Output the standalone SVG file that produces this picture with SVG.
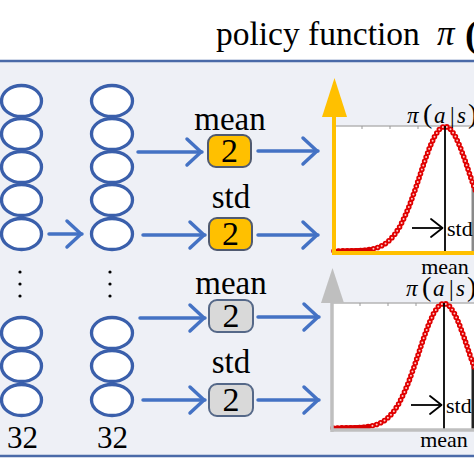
<svg xmlns="http://www.w3.org/2000/svg" xmlns:xlink="http://www.w3.org/1999/xlink" width="474" height="474" viewBox="0 0 474 474">
<style>
.serif{font-family:"Liberation Serif","Times New Roman",serif;fill:#000}
.neuron{fill:#ffffff;stroke:#3a5fab;stroke-width:3.3}
.conn{stroke:#4472c4;stroke-width:3.5;fill:none;stroke-linecap:round}
.box-y{fill:#ffc000;stroke:#505a70;stroke-width:2}
.box-g{fill:#d9d9d9;stroke:#556888;stroke-width:2}
.lbl{font-size:33px;text-anchor:middle}
.num{font-size:34px;text-anchor:middle}
.it{font-style:italic}
</style>
<defs>
<marker id="chev" markerUnits="userSpaceOnUse" viewBox="-20 -20 40 40" markerWidth="40" markerHeight="40" refX="0" refY="0" orient="auto" overflow="visible">
<path d="M-15,-13 L-1,0 L-15,13" fill="none" stroke="#4472c4" stroke-width="3.5" stroke-linecap="round" stroke-linejoin="round"/>
</marker>
<marker id="bchev" markerUnits="userSpaceOnUse" viewBox="-20 -20 40 40" markerWidth="40" markerHeight="40" refX="0" refY="0" orient="auto" overflow="visible">
<path d="M-12,-9 L-0.5,0 L-12,9" fill="none" stroke="#000" stroke-width="1.8" stroke-linecap="round" stroke-linejoin="round"/>
</marker>
<polyline id="gauss" points="334,251 355,250.8 365,250.2 375,248.5 380,246.7 385,244 390,239.9 395,234.1 400,226.3 405,216.2 410,204.1 415,190.2 420,175.2 425,160.2 430,146.6 435,135.6 440,128.5 445,126 450,128.5 455,135.6 460,146.6 465,160.2 470,175.2 472,181.2 476,192"/>
<g id="curve">
<use xlink:href="#gauss" href="#gauss" fill="none" stroke="#e00000" stroke-width="5.6" stroke-linecap="round" stroke-dasharray="0 4.4"/>
<use xlink:href="#gauss" href="#gauss" fill="none" stroke="#ffc8c8" stroke-width="2" stroke-linecap="round" stroke-dasharray="0 4.4"/>
<line x1="334" y1="251" x2="372" y2="249.5" stroke="#d80000" stroke-width="4"/>
</g>
</defs>

<g id="title">
<text class="serif" x="216" y="45" font-size="33.5">policy function</text>
<text class="serif it" x="437" y="45" font-size="35">π</text>
<text class="serif" x="465" y="47" font-size="38" font-weight="bold">(</text>
</g>

<g id="panel">
<rect x="0" y="62" width="474" height="393" fill="#eef0f6"/>
<line x1="0" y1="61" x2="474" y2="61" stroke="#4a6aa8" stroke-width="2.5"/>
<line x1="0" y1="456" x2="474" y2="456" stroke="#4a6aa8" stroke-width="2.5"/>
</g>

<g id="layer1">
<ellipse class="neuron" cx="21.5" cy="101" rx="20" ry="15.5"/>
<ellipse class="neuron" cx="21.5" cy="134" rx="20" ry="15.5"/>
<ellipse class="neuron" cx="21.5" cy="167" rx="20" ry="15.5"/>
<ellipse class="neuron" cx="21.5" cy="200" rx="20" ry="15.5"/>
<ellipse class="neuron" cx="21.5" cy="234" rx="20" ry="15.5"/>
<ellipse class="neuron" cx="21.5" cy="333" rx="20" ry="15.5"/>
<ellipse class="neuron" cx="21.5" cy="366" rx="20" ry="15.5"/>
<ellipse class="neuron" cx="21.5" cy="400" rx="20" ry="15.5"/>
<circle cx="20" cy="272" r="1.6"/><circle cx="20" cy="284" r="1.6"/><circle cx="20" cy="296" r="1.6"/>
<text class="serif" x="22.5" y="448" font-size="31" text-anchor="middle">32</text>
</g>

<g id="layer2">
<ellipse class="neuron" cx="112" cy="101" rx="20.5" ry="15.5"/>
<ellipse class="neuron" cx="112" cy="134" rx="20.5" ry="15.5"/>
<ellipse class="neuron" cx="112" cy="167" rx="20.5" ry="15.5"/>
<ellipse class="neuron" cx="112" cy="200" rx="20.5" ry="15.5"/>
<ellipse class="neuron" cx="112" cy="234" rx="20.5" ry="15.5"/>
<ellipse class="neuron" cx="112" cy="333" rx="20.5" ry="15.5"/>
<ellipse class="neuron" cx="112" cy="366" rx="20.5" ry="15.5"/>
<ellipse class="neuron" cx="112" cy="400" rx="20.5" ry="15.5"/>
<circle cx="110" cy="272" r="1.6"/><circle cx="110" cy="284" r="1.6"/><circle cx="110" cy="296" r="1.6"/>
<text class="serif" x="112.5" y="448" font-size="31" text-anchor="middle">32</text>
</g>

<g id="mean1">
<text class="serif lbl" x="230" y="130">mean</text>
<rect class="box-y" x="208" y="135" width="43" height="32" rx="8"/>
<text class="serif num" x="229.5" y="162">2</text>
</g>
<g id="std1">
<text class="serif lbl" x="231" y="208">std</text>
<rect class="box-y" x="209" y="218" width="43" height="32" rx="8"/>
<text class="serif num" x="230.5" y="245">2</text>
</g>
<g id="mean2">
<text class="serif lbl" x="231" y="294">mean</text>
<rect class="box-g" x="209" y="300" width="44" height="32" rx="8"/>
<text class="serif num" x="231" y="327">2</text>
</g>
<g id="std2">
<text class="serif lbl" x="231" y="373">std</text>
<rect class="box-g" x="209" y="384" width="44" height="32" rx="8"/>
<text class="serif num" x="231" y="411">2</text>
</g>

<g id="connectors">
<line class="conn" x1="49" y1="234" x2="82" y2="234" marker-end="url(#chev)"/>
<line class="conn" x1="138" y1="152" x2="202" y2="152" marker-end="url(#chev)"/>
<line class="conn" x1="143" y1="235" x2="205" y2="235" marker-end="url(#chev)"/>
<line class="conn" x1="140" y1="318" x2="205" y2="318" marker-end="url(#chev)"/>
<line class="conn" x1="143" y1="400" x2="205" y2="400" marker-end="url(#chev)"/>
<line class="conn" x1="258" y1="151" x2="318" y2="151" marker-end="url(#chev)"/>
<line class="conn" x1="258" y1="235" x2="318" y2="235" marker-end="url(#chev)"/>
<line class="conn" x1="258" y1="317" x2="319" y2="317" marker-end="url(#chev)"/>
<line class="conn" x1="258" y1="400" x2="319" y2="400" marker-end="url(#chev)"/>
</g>

<g id="chart1">
<rect x="334" y="126" width="140" height="127" fill="#ffffff"/>
<line x1="334" y1="126" x2="474" y2="126" stroke="#b4b4b4" stroke-width="1.5"/>
<path d="M362,126v3M390,126v3M418,126v3" stroke="#999" stroke-width="1"/>
<line x1="473" y1="180" x2="473" y2="253" stroke="#8a8a8a" stroke-width="3"/>
<use xlink:href="#curve" href="#curve"/>
<line x1="445" y1="126" x2="445" y2="253" stroke="#000" stroke-width="1.8"/>
<line x1="334" y1="253" x2="474" y2="253" stroke="#ffc000" stroke-width="4"/>
<line x1="334" y1="255" x2="334" y2="112" stroke="#ffc000" stroke-width="4"/>
<polygon points="322,117 347,117 334.5,78" fill="#ffc000"/>
<line x1="412" y1="228" x2="443" y2="228" stroke="#000" stroke-width="1.8" marker-end="url(#bchev)"/>
<text class="serif" x="447" y="236" font-size="22">std</text>
<text class="serif" x="445" y="274" font-size="22" text-anchor="middle">mean</text>
<text class="serif" y="123" font-size="23"><tspan class="it" x="407">π</tspan><tspan x="423" font-size="28">(</tspan><tspan class="it" x="434">a</tspan><tspan x="450">|</tspan><tspan class="it" x="457">s</tspan><tspan x="468" font-size="28">)</tspan></text>
</g>

<g id="chart2">
<rect x="332" y="303" width="142" height="127" fill="#ffffff"/>
<line x1="332" y1="303" x2="474" y2="303" stroke="#b4b4b4" stroke-width="1.5"/>
<path d="M360,303v3M388,303v3M416,303v3" stroke="#999" stroke-width="1"/>
<line x1="473" y1="360" x2="473" y2="430" stroke="#222" stroke-width="3"/>
<use xlink:href="#curve" href="#curve" transform="translate(-1,177)"/>
<line x1="444" y1="303" x2="444" y2="430" stroke="#000" stroke-width="1.8"/>
<line x1="332" y1="430" x2="474" y2="430" stroke="#bfbfbf" stroke-width="3.5"/>
<line x1="332" y1="432" x2="332" y2="300" stroke="#bfbfbf" stroke-width="3.5"/>
<polygon points="321,303 344,303 332.5,268" fill="#bfbfbf"/>
<line x1="411" y1="405" x2="442" y2="405" stroke="#000" stroke-width="1.8" marker-end="url(#bchev)"/>
<text class="serif" x="446" y="413" font-size="22">std</text>
<text class="serif" x="444" y="447" font-size="22" text-anchor="middle">mean</text>
<text class="serif" y="296" font-size="23"><tspan class="it" x="406">π</tspan><tspan x="422" font-size="28">(</tspan><tspan class="it" x="433">a</tspan><tspan x="449">|</tspan><tspan class="it" x="456">s</tspan><tspan x="467" font-size="28">)</tspan></text>
</g>
</svg>
